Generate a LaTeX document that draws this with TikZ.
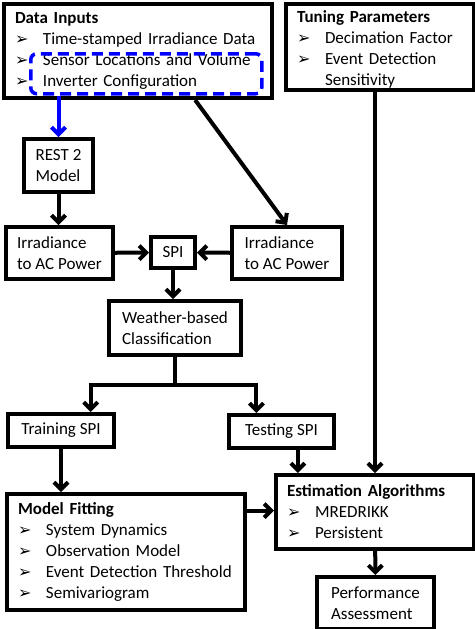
\documentclass[tikz,border=0pt]{standalone}
\usepackage{fontspec}
\setmainfont{Carlito}
\newfontfamily\dingfont{DejaVu Sans}
\usepackage{tikz}
\usetikzlibrary{arrows.meta,calc}

\newcommand{\itm}[1]{\mbox{\makebox[28pt][l]{\dingfont\fontsize{16}{21}\selectfont ➢}#1}}
\newcommand{\itmcont}[1]{\mbox{\hspace*{28pt}#1}}

\tikzset{
  blk/.style={draw,line width=4pt,anchor=north west,align=left,inner xsep=8pt,
    font=\fontsize{17}{21}\selectfont},
  listblk/.style={blk,inner xsep=11pt},
  flow/.style={->,line width=4pt,>={Straight Barb[length=7pt,width=14pt]}},
}

\begin{document}
\begin{tikzpicture}[x=1pt,y=-1pt]
    \useasboundingbox (0,0) rectangle (474,629);
    \node[listblk,text width=246pt,minimum height=94pt] (inputs) at (2,2)
      {\textbf{Data Inputs}\\\itm{Time-stamped Irradiance Data}\\\itm{Sensor Locations and Volume}\\\itm{Inverter Configuration}};
    \node[listblk,text width=166pt,minimum height=86pt,inner ysep=0pt] (tuning) at (284,2)
      {\rule{0pt}{17pt}\textbf{Tuning Parameters}\\\itm{Decimation Factor}\\\itm{Event Detection}\\\itmcont{Sensitivity}};
    \node[draw=blue,dashed,dash pattern=on 11pt off 6pt,rounded corners=6pt,line width=3.5pt,
      anchor=north west,minimum width=231pt,minimum height=40pt,inner sep=0pt] (sel) at (29,52) {};
    \node[blk,minimum width=69pt,minimum height=53pt] (rest) at (22,137) {REST 2\\Model};
    \node[blk,minimum width=107pt,minimum height=52pt] (irrL) at (4,225) {Irradiance\\to AC Power};
    \node[blk,minimum width=44pt,minimum height=31pt,inner xsep=4pt] (spi) at (149,235) {SPI};
    \node[blk,minimum width=110pt,minimum height=52pt] (irrR) at (230,225) {Irradiance\\to AC Power};
    \node[blk,minimum width=132pt,minimum height=54pt] (weather) at (107,299) {Weather-based\\Classification};
    \node[blk,minimum width=106pt,minimum height=33pt] (train) at (6,412) {Training SPI};
    \node[blk,minimum width=105pt,minimum height=33pt] (test) at (227,413) {Testing SPI};
    \node[listblk,text width=216pt,minimum height=116pt] (fitting) at (5,492)
      {\textbf{Model Fitting}\\\itm{System Dynamics}\\\itm{Observation Model}\\\itm{Event Detection Threshold}\\\itm{Semivariogram}};
    \node[listblk,text width=176pt,minimum height=74pt] (estim) at (274,473)
      {\textbf{Estimation Algorithms}\\\itm{MREDRIKK}\\\itm{Persistent}};
    \node[blk,minimum width=117pt,minimum height=52pt] (perf) at (315,575) {Performance\\Assessment};

    \coordinate (diag) at ($(inputs.south west)!0.71!(inputs.south east)$);
    \coordinate (trainin) at ($(train.north west)!0.77!(train.north east)$);
    \coordinate (testin) at ($(test.north west)!0.27!(test.north east)$);
    \coordinate (testout) at ($(test.south west)!0.65!(test.south east)$);
    \coordinate (fitout) at ($(fitting.north east)!0.155!(fitting.south east)$);

    \draw[flow,blue] (sel.south -| rest.north) -- (rest.north);
    \draw[flow] (diag) -- (irrR.north);
    \draw[flow] (rest.south) -- (rest.south |- irrL.north);
    \path[flow]
      (irrL) edge (spi)
      (irrR) edge (spi)
      (estim) edge (perf);
    \draw[flow] (spi.south) -- (spi.south |- weather.north);
    \draw[line width=4pt] (weather.south) -- ++(0,28) coordinate (split);
    \draw[flow] (split) -| (trainin);
    \draw[flow] (split) -| (testin);
    \draw[flow] (train.south) -- (train.south |- fitting.north);
    \draw[flow] (testout) -- (testout |- estim.north);
    \draw[flow] (estim.north |- tuning.south) -- (estim.north);
    \draw[flow] (fitout) -- (fitout -| estim.west);
  \end{tikzpicture}
\end{document}
